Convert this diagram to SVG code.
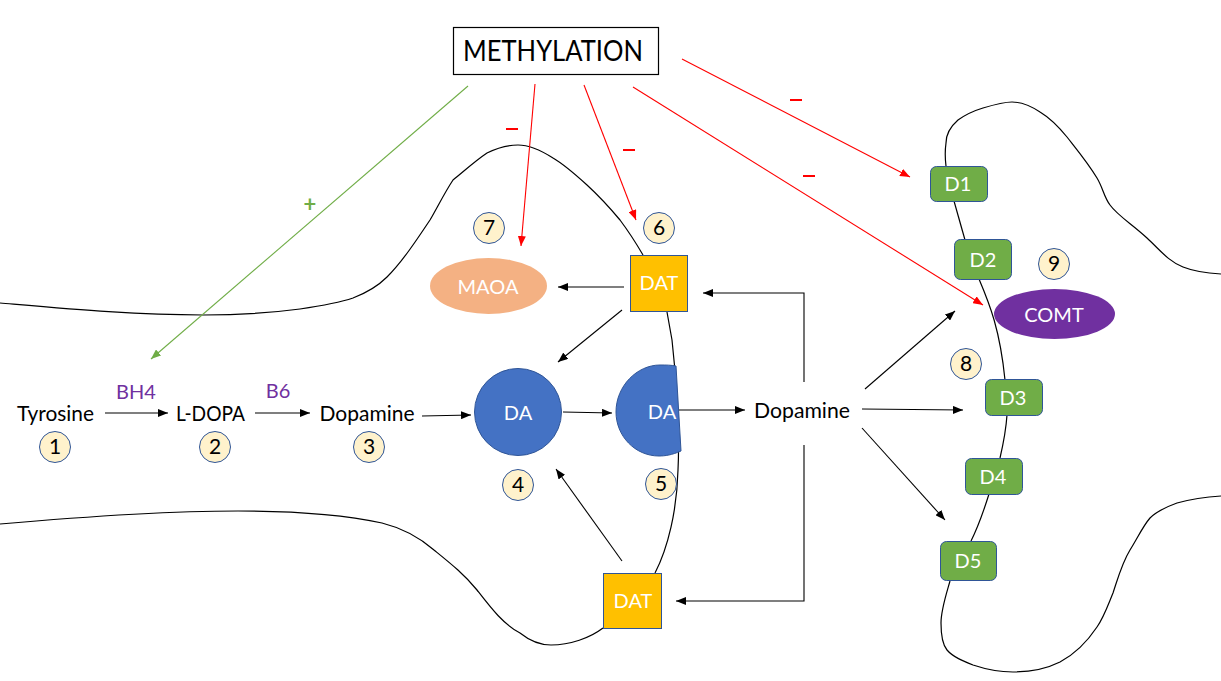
<svg xmlns="http://www.w3.org/2000/svg" width="1221" height="681" viewBox="0 0 1221 681">
<style>
text{font-family:Lato,"Liberation Sans",sans-serif;text-anchor:middle}
.m{fill:none;stroke:#000;stroke-width:1.2}
.k{fill:none;stroke:#000;stroke-width:1.1;marker-end:url(#ak)}
.r{fill:none;stroke:#f00;stroke-width:1.1;marker-end:url(#ar)}
.g{fill:none;stroke:#70ad47;stroke-width:1.1;marker-end:url(#ag)}
.t{font-size:21px;fill:#000}
.e{font-size:20px;fill:#7030a0}
.w{font-size:20px;fill:#fff}
.c{fill:#fff2cc;stroke:#2f5597;stroke-width:1}
.n{font-size:21px;fill:#000}
.d{fill:#70ad47;stroke:#2f5597;stroke-width:1}
.s{fill:#ffc000;stroke:#2f5597;stroke-width:1}
.o{font-size:22px;font-weight:700}
</style>
<defs>
<marker id="ak" markerUnits="userSpaceOnUse" markerWidth="10" markerHeight="8" refX="10" refY="4" orient="auto"><path d="M0 0L10 4L0 8z" fill="#000"/></marker>
<marker id="ar" markerUnits="userSpaceOnUse" markerWidth="10" markerHeight="8" refX="10" refY="4" orient="auto"><path d="M0 0L10 4L0 8z" fill="#f00"/></marker>
<marker id="ag" markerUnits="userSpaceOnUse" markerWidth="10" markerHeight="8" refX="10" refY="4" orient="auto"><path d="M0 0L10 4L0 8z" fill="#70ad47"/></marker>
</defs>
<g id="membranes">
<path class="m" d="M0 303C70 309 135 315 203 315C240 315 270 313 300 309C320 306 338 303 353 298C366 293 377 287 387 277C402 262 416 241 430 220C437 208 445 192 453 180C463 172 475 161 487 153C497 148 507 145 518 145C530 145 542 151 553 158C565 165 576 175 587 185C599 196 610 208 620 220C629 232 636 243 643 255"/>
<path class="m" d="M667 312L672 340C676 375 680 430 678 470C677 510 668 548 655 573"/>
<path class="m" d="M0 524C80 517 160 511 238 511C290 511 340 514 382 523C402 528 419 537 434 550C450 563 464 574 477 590C491 608 503 624 520 633C530 641 540 645 551 645C570 645 590 638 603 628"/>
<path class="m" d="M1221 274C1205 273 1193 271 1183 267C1168 261 1160 250 1147 238C1132 224 1118 216 1110 205C1104 197 1103 188 1097 178C1088 163 1078 151 1067 137C1058 126 1050 118 1040 112C1031 106 1022 102 1012 102C1003 102 993 105 983 108C973 111 965 115 958 120C950 127 946 134 946 143C945 150 945 158 946 166"/>
<path class="m" d="M954 201L965 240"/>
<path class="m" d="M979 279C990 305 1000 330 1005 380"/>
<path class="m" d="M1007 415C1006 430 1003 445 1000 458"/>
<path class="m" d="M989 494C984 510 978 527 971 541"/>
<path class="m" d="M950 581C946 595 941 610 941 623C941 635 942 644 947 650C953 657 963 661 973 665C985 669 1000 672 1013 672C1030 672 1046 669 1060 662C1075 654 1087 642 1097 627C1104 617 1108 605 1113 593C1118 578 1122 563 1130 550C1137 539 1143 526 1150 518C1157 511 1166 507 1177 503C1192 499 1207 497 1221 496"/>
</g>
<g id="connectors">
<path class="g" d="M468 86L151 359"/>
<path class="r" d="M535 84L521 246"/>
<path class="r" d="M584 85L636 220"/>
<path class="r" d="M633 87L983 305"/>
<path class="r" d="M682 59L910 177"/>
<path class="k" d="M105 413H168"/>
<path class="k" d="M255 413H310"/>
<path class="k" d="M422 416L471 415"/>
<path class="k" d="M563 412L612 413"/>
<path class="k" d="M679 410L745 410"/>
<path class="k" d="M624 287H558"/>
<path class="k" d="M622 310L558 362"/>
<path class="k" d="M622 561L556 469"/>
<path class="k" d="M804 382V293H703"/>
<path class="k" d="M804 445V601H676"/>
<path class="k" d="M865 389L955 311"/>
<path class="k" d="M862 409L963 410"/>
<path class="k" d="M862 428L945 520"/>
</g>
<g id="methylation"><rect x="453.500" y="27.500" width="205" height="47" fill="#fff" stroke="#000" stroke-width="1.200"/><text x="553" y="61" font-size="28" textLength="180" lengthAdjust="spacingAndGlyphs">METHYLATION</text></g>
<g id="signs">
<text class="o" x="310" y="212" fill="#70ad47">+</text>
<rect x="506" y="128" width="12" height="2" fill="#f00"/>
<rect x="623" y="149" width="12" height="2" fill="#f00"/>
<rect x="790" y="99" width="12" height="2" fill="#f00"/>
<rect x="803" y="175" width="12" height="2" fill="#f00"/>
</g>
<g id="tyrosine"><text class="t" x="55.500" y="421" textLength="77" lengthAdjust="spacingAndGlyphs">Tyrosine</text></g>
<g id="ldopa"><text class="t" x="210.500" y="421" textLength="69" lengthAdjust="spacingAndGlyphs">L-DOPA</text></g>
<g id="dopamine1"><text class="t" x="367" y="421" textLength="95" lengthAdjust="spacingAndGlyphs">Dopamine</text></g>
<g id="dopamine2"><text class="t" x="802" y="418" textLength="96" lengthAdjust="spacingAndGlyphs">Dopamine</text></g>
<g id="bh4"><text class="e" x="136" y="399">BH4</text></g>
<g id="b6"><text class="e" x="278" y="398">B6</text></g>
<g id="n1"><circle class="c" cx="55" cy="447" r="15.500"/><text class="n" x="55" y="454">1</text></g>
<g id="n2"><circle class="c" cx="215" cy="447" r="15.500"/><text class="n" x="215" y="454">2</text></g>
<g id="n3"><circle class="c" cx="369" cy="447" r="15.500"/><text class="n" x="369" y="454">3</text></g>
<g id="n4"><circle class="c" cx="518" cy="485" r="15.500"/><text class="n" x="518" y="492">4</text></g>
<g id="n5"><circle class="c" cx="661" cy="484" r="15.500"/><text class="n" x="661" y="491">5</text></g>
<g id="n6"><circle class="c" cx="659" cy="228" r="15.500"/><text class="n" x="659" y="235">6</text></g>
<g id="n7"><circle class="c" cx="489" cy="228" r="15.500"/><text class="n" x="489" y="235">7</text></g>
<g id="n8"><circle class="c" cx="966" cy="364" r="15.500"/><text class="n" x="966" y="371">8</text></g>
<g id="n9"><circle class="c" cx="1054" cy="264" r="15.500"/><text class="n" x="1054" y="271">9</text></g>
<g id="da1"><circle cx="518" cy="412" r="43.500" fill="#4472c4" stroke="#2f5597"/><text class="w" x="518" y="420">DA</text></g>
<g id="da2"><path d="M676 366L681 451C672 455 665 456 659 456C635 456 616 436 616 412C616 386 637 365 660 365C666 365 671 365 676 366z" fill="#4472c4" stroke="#2f5597"/><text class="w" x="662" y="419">DA</text></g>
<g id="maoa"><ellipse cx="488.500" cy="286" rx="58.500" ry="28" fill="#f4b183"/><text class="w" x="488" y="294">MAOA</text></g>
<g id="dat1"><rect class="s" x="630.500" y="255.500" width="57" height="56"/><text class="w" x="659" y="290">DAT</text></g>
<g id="dat2"><rect class="s" x="603.500" y="573.500" width="58" height="55"/><text class="w" x="633" y="608">DAT</text></g>
<g id="comt"><ellipse cx="1054.500" cy="314" rx="60.500" ry="25" fill="#7030a0"/><text class="w" x="1054" y="322">COMT</text></g>
<g id="d1"><rect class="d" x="930.500" y="166.500" width="57" height="35" rx="6"/><text class="w" x="958" y="191">D1</text></g>
<g id="d2"><rect class="d" x="954.500" y="239.500" width="57" height="40" rx="6"/><text class="w" x="983" y="267">D2</text></g>
<g id="d3"><rect class="d" x="985.500" y="379.500" width="57" height="36" rx="6"/><text class="w" x="1013" y="405">D3</text></g>
<g id="d4"><rect class="d" x="965.500" y="458.500" width="57" height="36" rx="6"/><text class="w" x="993" y="484">D4</text></g>
<g id="d5"><rect class="d" x="940.500" y="541.500" width="56" height="39" rx="6"/><text class="w" x="968" y="568">D5</text></g>
</svg>
